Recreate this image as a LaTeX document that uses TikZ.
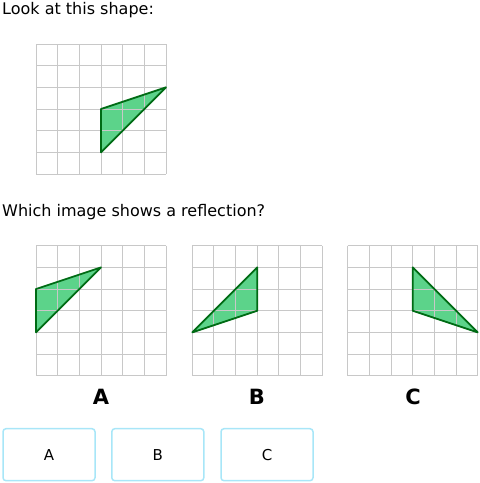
\documentclass[tikz,border=0pt]{standalone}
\usepackage{fontspec}
\setmainfont{DejaVu Sans}
\begin{document}
\begin{tikzpicture}[x=1pt,y=-1pt,
  optlabel/.style={font=\bfseries\fontsize{21}{24}\selectfont, anchor=base},
  btn/.style={line width=1.5pt, rounded corners=3pt, minimum width=92pt, minimum height=52pt, inner sep=0pt, font=\fontsize{15}{18}\selectfont},
  title/.style={anchor=base west, inner sep=0pt, font=\fontsize{16}{19}\selectfont}]
\useasboundingbox (0,0) rectangle (480,483);
\definecolor{shfill}{HTML}{5CD38A}
\definecolor{shline}{HTML}{006B14}
\definecolor{gridc}{HTML}{C8C8C8}
\definecolor{btnc}{HTML}{A8E6F8}
\newcommand{\gridat}[3]{%
  \begin{scope}[shift={(#1,#2)}, x=21.667pt, y=-21.667pt]
    \fill[shfill] #3;
    \foreach \i in {0,...,6} {
      \draw[gridc, line width=1pt] (\i,0) -- (\i,6);
      \draw[gridc, line width=1pt] (0,\i) -- (6,\i);
    }
    \draw[shline, line width=1.8pt, line join=round] #3;
  \end{scope}}
\node[title] (t1) at (2,14) {Look at this shape:};
\gridat{36}{44}{(3,3) -- (3,5) -- (6,2) -- cycle}
\node[title] (t2) at (2,216) {Which image shows a reflection?};
\gridat{36}{245.7}{(0,2) -- (0,4) -- (3,1) -- cycle}
\gridat{192.3}{245.7}{(0,4) -- (3,1) -- (3,3) -- cycle}
\gridat{347.7}{245.7}{(3,1) -- (3,3) -- (6,4) -- cycle}
\node[optlabel] (la) at (101,404) {A};
\node[optlabel] (lb) at (257,404) {B};
\node[optlabel] (lc) at (413,404) {C};
\node[btn, draw=btnc] (ba) at (49,454.7) {A};
\node[btn, draw=btnc] (bb) at (157.8,454.7) {B};
\node[btn, draw=btnc] (bc) at (267,454.7) {C};
\end{tikzpicture}
\end{document}
